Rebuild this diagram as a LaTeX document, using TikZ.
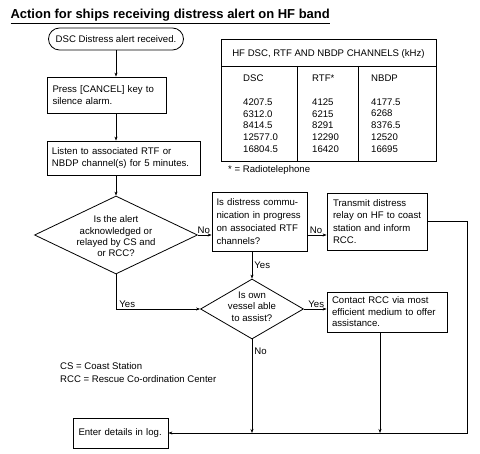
\documentclass[tikz,border=0pt]{standalone}
\usepackage{fontspec}
\setmainfont{Liberation Sans}
\usetikzlibrary{arrows.meta,calc,shapes.geometric}

\tikzset{
  box/.style={draw, line width=0.8pt, rectangle, inner sep=0pt, align=left},
  dec/.style={draw, line width=0.8pt, diamond, inner sep=0pt},
  arr/.style={-{Stealth[length=4pt,width=3pt]}, line width=0.8pt},
  lbl/.style={inner sep=1pt}
}

\begin{document}
\begin{tikzpicture}[x=1pt,y=-1pt,font=\fontsize{9.6}{11.5}\selectfont]
\useasboundingbox (0,0) rectangle (480,454);

\node[anchor=base west, font=\fontsize{13}{15}\bfseries] (title) at (7,19)
  {\underline{Action for ships receiving distress alert on HF band}};

% main column
\node[box, rounded corners=11pt, minimum width=135, minimum height=22, align=center] (start) at (116,39)
  {DSC Distress alert received.};
\node[box, minimum width=119, minimum height=36, text width=108] (press) at (106.5,95)
  {Press [CANCEL] key to\\silence alarm.};
\node[box, minimum width=153, minimum height=34, text width=143] (listen) at (123.5,158)
  {Listen to associated RTF or\\NBDP channel(s) for 5 minutes.};
\node[dec, minimum width=163, minimum height=78] (ack) at (116,235) {};
\node[align=center, font=\fontsize{9.6}{11.3}\selectfont] (acktxt) at (116,236.5)
  {Is the alert\\acknowledged or\\relayed by CS and\\or RCC?};

% right part
\node[box, minimum width=95, minimum height=59, text width=86, font=\fontsize{9.6}{12.8}\selectfont] (comm) at (259.5,221.5)
  {Is~distress~commu-\\nication~in~progress\\on~associated~RTF\\channels?};
\node[box, minimum width=100, minimum height=57, text width=88, font=\fontsize{9.6}{12.3}\selectfont] (relay) at (377,221.5)
  {Transmit~distress\\relay~on~HF~to~coast\\station~and~inform\\RCC.};
\node[dec, minimum width=103, minimum height=60] (own) at (252,309) {};
\node[align=center, font=\fontsize{9.6}{11.3}\selectfont] (owntxt) at (252,306.5)
  {Is own\\vessel able\\to assist?};
\node[box, minimum width=120, minimum height=40, text width=110] (contact) at (387,312)
  {Contact RCC via most\\efficient~medium~to~offer\\assistance.};
\node[box, minimum width=95, minimum height=30, text width=84] (log) at (120.5,433)
  {Enter details in log.};

\coordinate (rc) at (467,433);
\coordinate (cj) at (380,433);

% connectors
\draw[arr] (start.south -| ack.north) -- (press.north -| ack.north);
\draw[arr] (press.south -| ack.north) -- (listen.north -| ack.north);
\draw[arr] (listen.south -| ack.north) -- (ack.north);
\draw[arr] (ack.east) -- (ack.east -| comm.west)
  node[lbl, midway, above, xshift=-1pt] {No};
\draw[arr] (ack.east -| comm.east) -- (ack.east -| relay.west)
  node[lbl, midway, above, xshift=-1pt] {No};
\draw[arr] (comm.south -| own.north) -- (own.north)
  node[lbl, midway, right, xshift=1pt] {Yes};
\draw[arr] (ack.south) |- (own.west)
  node[lbl, pos=0.5, above right, xshift=2pt] {Yes};
\draw[arr] (own.east) -- (own.east -| contact.west)
  node[lbl, midway, above, xshift=1pt] {Yes};
\draw[arr] (own.south) -- (own.south |- log.east)
  node[lbl, pos=0.13, right, xshift=1pt] {No};
\draw[arr] (cj |- contact.south) -- (cj);
\draw[arr] (relay.east) -| (rc) -- (log.east);

% channel table
\draw[line width=0.8pt] (221,39) rectangle (436,161);
\draw[line width=0.8pt] (221,66) -- (436,66);
\draw[line width=0.8pt] (297,66) -- (297,161);
\draw[line width=0.8pt] (358,66) -- (358,161);
\node (tblhead) at (328.5,54) {HF DSC, RTF AND NBDP CHANNELS (kHz)};
\node[anchor=base west, inner sep=0pt] (hdsc) at (243,81.7) {DSC};
\node[anchor=base west, inner sep=0pt] (hrtf) at (312,81.7) {RTF*};
\node[anchor=base west, inner sep=0pt] (hnbdp) at (371,81.7) {NBDP};
\begin{scope}[every node/.style={anchor=north west, inner sep=0pt, align=left, font=\fontsize{9.6}{11.9}\selectfont}]
\node (cdsc) at (243,98.2) {4207.5\\6312.0\\8414.5\\12577.0\\16804.5};
\node (crtf) at (312,98.2) {4125\\6215\\8291\\12290\\16420};
\node (cnbdp) at (371,98.2) {4177.5\\6268\\8376.5\\12520\\16695};
\end{scope}
\node[anchor=base west, inner sep=0pt] (note) at (228,172.7) {* = Radiotelephone};

% legend
\node[anchor=base west, inner sep=0pt] (leg1) at (60,370) {CS = Coast Station};
\node[anchor=base west, inner sep=0pt] (leg2) at (60,382.7) {RCC = Rescue Co-ordination Center};
\end{tikzpicture}
\end{document}
